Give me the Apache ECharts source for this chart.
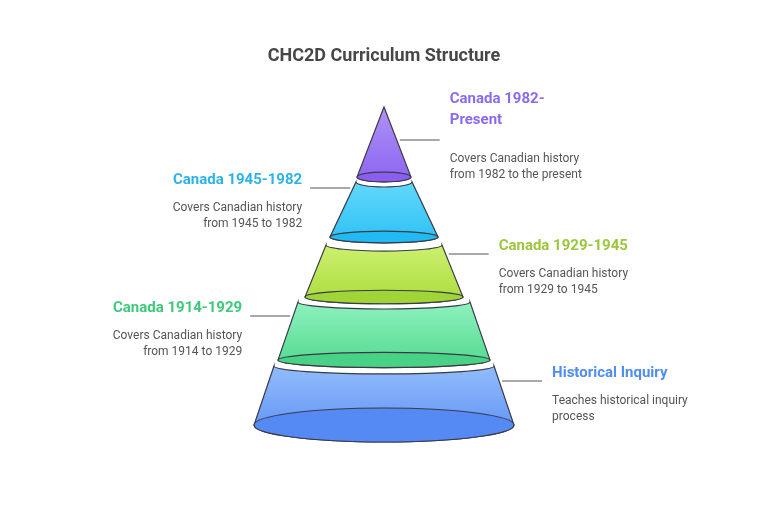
<!DOCTYPE html>
<html><head><meta charset="utf-8">
<script src="https://cdn.jsdelivr.net/npm/echarts@6/dist/echarts.min.js"></script>
<style>html,body{margin:0;background:#fff}#c{width:768px;height:516px}</style>
</head><body><div id="c"></div>
<script>
const titles = ["Canada 1982-\nPresent","Canada 1945-1982","Canada 1929-1945","Canada 1914-1929","Historical Inquiry"];
const descs = ["Covers Canadian history\nfrom 1982 to the present","Covers Canadian history\nfrom 1945 to 1982","Covers Canadian history\nfrom 1929 to 1945","Covers Canadian history\nfrom 1914 to 1929","Teaches historical inquiry\nprocess"];
const topY = [107,182,245,302,366];
const botY = [177,237,297,360,425];
const topHW = [0,28,58,86,110];
const botHW = [27,54,79,106,130];
const colTop = ["#ae93f7","#62d8fc","#cdf06f","#8ef2bf","#92bdfb"];
const colBot = ["#8c64ef","#2cc0f4","#a9dc3c","#52d98c","#5b8ef4"];
const ellCol = ["#8a5ff0","#22baf2","#a0d538","#49d286","#5589f3"];
const titleCol = ["#8b6af0","#2cb4e8","#9cc63c","#3ec97b","#4f8df0"];
const side = ["r","l","r","l","r"];
const lineOff = [33,6,9,14,15];

const cx = 384;
const ry = (hw, last) => hw === 0 ? 0 : (last ? 17 : 4 + hw * 0.035);

function renderItem(params, api) {
  const i = api.value(0);
  const last = i === titles.length - 1;
  const t = api.coord([cx - api.value(3), api.value(1)]);
  const tr = api.coord([cx + api.value(3), api.value(1)]);
  const b = api.coord([cx - api.value(4), api.value(2)]);
  const br = api.coord([cx + api.value(4), api.value(2)]);
  const c = api.coord([cx, 0])[0];
  const tw = (tr[0]-t[0])/2, bw = (br[0]-b[0])/2;
  const tr_y = ry(tw, false), br_y = ry(bw, last);
  let d = `M${t[0]},${t[1]} `;
  if (tw > 0) d += `A${tw},${tr_y} 0 0 0 ${tr[0]},${tr[1]} `;
  d += `L${br[0]},${br[1]} A${bw},${br_y} 0 0 1 ${b[0]},${b[1]} Z`;
  const children = [
    {type:'path', shape:{pathData:d}, style:{
      fill:new echarts.graphic.LinearGradient(0,0,0,1,[{offset:0,color:colTop[i]},{offset:1,color:colBot[i]}]),
      stroke:'#3a3a4a', lineWidth:1.2}},
    {type:'ellipse', shape:{cx:c, cy:b[1], rx:bw, ry:br_y}, style:{fill:ellCol[i], stroke:'#3a3a4a', lineWidth:1.2}}
  ];
  const ly = t[1] + lineOff[i];
  const frac = (ly - t[1]) / (b[1] - t[1]);
  const hw = tw + (bw - tw) * frac;
  const edgeX = side[i]==='r' ? c + hw + 3 : c - hw - 3;
  const lx2 = side[i]==='r' ? edgeX + 40 : edgeX - 40;
  children.push({type:'line', shape:{x1:edgeX, y1:ly, x2:lx2, y2:ly}, style:{stroke:'#555', lineWidth:1.2}});
  const tx = side[i]==='r' ? lx2 + 10 : lx2 - 8;
  const align = side[i]==='r' ? 'left' : 'right';
  const ty = i===0 ? ly - 30 : ly - 8;
  children.push({type:'text', style:{x:tx, y:ty, text:titles[i], fill:titleCol[i], font:'bold 15px Roboto, sans-serif', align, verticalAlign:'middle', lineHeight:21}});
  const dy = i===0 ? ly + 11 : ly + 12;
  children.push({type:'text', style:{x:tx, y:dy, text:descs[i], fill:'#555', font:'12px Roboto, sans-serif', align, verticalAlign:'top', lineHeight:16}});
  return {type:'group', children};
}

const data = titles.map((_, i) => [i, topY[i], botY[i], topHW[i], botHW[i]]);
const chart = echarts.init(document.getElementById('c'), null, {renderer:'canvas'});
chart.setOption({
  animation:false,
  title:{text:'CHC2D Curriculum Structure', left:'center', top:42, textStyle:{fontSize:18, fontWeight:'bold', color:'#474747', fontFamily:'Roboto, sans-serif'}},
  grid:{left:0,right:0,top:0,bottom:0},
  xAxis:{type:'value', min:0, max:768, show:false},
  yAxis:{type:'value', min:0, max:516, inverse:true, show:false},
  series:[{type:'custom', renderItem, data: data.slice().reverse(), clip:false}]
});
</script></body></html>
